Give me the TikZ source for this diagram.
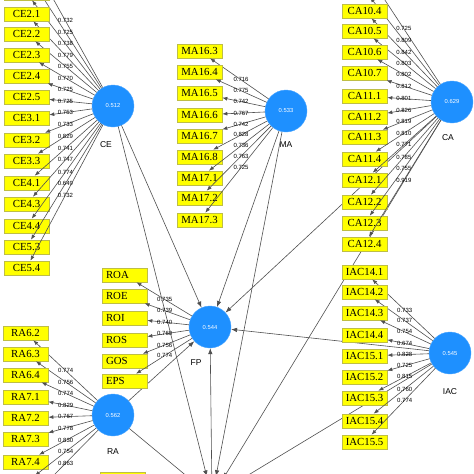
\documentclass[tikz,border=0pt]{standalone}
\usepackage{fontspec}
\setmainfont{Liberation Serif}
\setsansfont{Liberation Sans}
\usetikzlibrary{arrows.meta,calc}

\definecolor{plsblue}{RGB}{30,144,255}
\definecolor{itemyellow}{RGB}{255,255,0}
\definecolor{itemedge}{RGB}{190,190,70}
\definecolor{linkgray}{RGB}{80,80,80}

\tikzset{
  latent/.style={circle, fill=plsblue, draw=plsblue!80!white, minimum size=42pt, inner sep=0pt,
    text=white, font=\sffamily\fontsize{5.8}{6}\selectfont},
  item/.style={rectangle, fill=itemyellow, draw=itemedge, line width=0.6pt, minimum width=45pt,
    minimum height=14pt, inner sep=0pt, font=\fontsize{10.8}{11}\selectfont},
  itemleft/.style={item, text width=37pt, inner xsep=4pt, align=left},
  lvname/.style={font=\sffamily\fontsize{8.5}{9}\selectfont},
  loading/.style={font=\sffamily\fontsize{6}{6}\selectfont, inner sep=0pt},
  outer/.style={draw=linkgray, line width=0.6pt, -{Latex[length=5pt,width=3.8pt]}},
  inner/.style={draw=linkgray, line width=0.6pt, -{Latex[length=6pt,width=4.5pt]}}
}

\begin{document}
\begin{tikzpicture}[x=1pt, y=-1pt]
    \useasboundingbox (0,0) rectangle (474,474);
    \clip (0,0) rectangle (474,474);
    \fill[white] (0,0) rectangle (474,474);

    % latente Variablen
    \node[latent] (CE)  at (113,106) {0.512};
    \node[latent] (MA)  at (286,111) {0.533};
    \node[latent] (CA)  at (452,102) {0.629};
    \node[latent] (FP)  at (210,327) {0.544};
    \node[latent] (IAC) at (450,353) {0.545};
    \node[latent] (RA)  at (113,415) {0.562};
    \node[latent] (BT)  at (212,497) {};

    \node[lvname] (CEname)  at (106,145) {CE};
    \node[lvname] (MAname)  at (286,145) {MA};
    \node[lvname] (CAname)  at (448,138) {CA};
    \node[lvname] (FPname)  at (196,363) {FP};
    \node[lvname] (IACname) at (450,392) {IAC};
    \node[lvname] (RAname)  at (113,452) {RA};

    % Strukturmodell
    \draw[inner] (CE) -- (FP);
    \draw[inner] (MA) -- (FP);
    \draw[inner] (CA) -- (FP);
    \draw[inner] (IAC) -- (FP);
    \draw[inner] (RA) -- (FP);
    \draw[inner] (BT) -- (FP);
    \draw[inner] (CE) -- (BT);
    \draw[inner] (MA) -- (BT);
    \draw[inner] (CA) -- (BT);
    \draw[inner] (IAC) -- (BT);
    \draw[inner] (RA) -- (BT);

    % Indikatoren CE
    \foreach \name/\ypos/\lam [count=\i] in {{}/-49/0.732, {}/-28/0.725, {}/-7/0.738,
        CE2.1/14/0.779, CE2.2/34/0.755, CE2.3/55/0.770, CE2.4/76/0.725, CE2.5/97/0.725,
        CE3.1/118/0.753, CE3.2/140/0.733, CE3.3/161/0.829, CE4.1/183/0.741,
        CE4.3/204/0.747, CE4.4/226/0.774, CE5.3/247/0.649, CE5.4/268/0.732} {
        \node[item] (ce\i) at (26.5,\ypos) {\name};
        \draw[outer] (CE) -- (ce\i);
        \node[loading] (celam\i) at ($(CE)!0.55!(ce\i)$) {\lam};
    }

    % Indikatoren MA
    \foreach \name/\ypos/\lam [count=\i] in {MA16.3/51/0.716, MA16.4/72/0.775,
        MA16.5/93/0.742, MA16.6/115/0.767, MA16.7/136/0.742, MA16.8/157/0.828,
        MA17.1/178/0.736, MA17.2/198/0.763, MA17.3/220/0.725} {
        \node[item] (ma\i) at (199.5,\ypos) {\name};
        \draw[outer] (MA) -- (ma\i);
        \node[loading] (malam\i) at ($(MA)!0.52!(ma\i)$) {\lam};
    }

    % Indikatoren CA
    \foreach \name/\ypos/\lam [count=\i] in {{}/-31/0.725, {}/-10/0.809,
        CA10.4/11/0.842, CA10.5/31/0.803, CA10.6/52/0.802, CA10.7/73/0.812,
        CA11.1/96/0.801, CA11.2/117/0.826, CA11.3/137/0.819, CA11.4/159/0.810,
        CA12.1/180/0.771, CA12.2/202/0.785, CA12.3/223/0.755, CA12.4/244/0.919} {
        \node[item] (ca\i) at (364.5,\ypos) {\name};
        \draw[outer] (CA) -- (ca\i);
        \node[loading] (calam\i) at ($(CA)!0.55!(ca\i)$) {\lam};
    }

    % Indikatoren IAC
    \foreach \name/\ypos/\lam [count=\i] in {IAC14.1/272/0.733, IAC14.2/292/0.737,
        IAC14.3/313/0.754, IAC14.4/335/0.674, IAC15.1/356/0.828, IAC15.2/377/0.725,
        IAC15.3/398/0.815, IAC15.4/421/0.760, IAC15.5/442/0.774} {
        \node[item] (iac\i) at (364.5,\ypos) {\name};
        \draw[outer] (IAC) -- (iac\i);
        \node[loading] (iaclam\i) at ($(IAC)!0.53!(iac\i)$) {\lam};
    }

    % Indikatoren FP
    \foreach \name/\ypos/\lam [count=\i] in {ROA/275/0.735, ROE/296/0.739, ROI/318/0.740,
        ROS/340/0.760, GOS/361/0.756, EPS/381/0.774} {
        \node[itemleft] (fp\i) at (124.5,\ypos) {\name};
        \draw[outer] (FP) -- (fp\i);
        \node[loading] (fplam\i) at ($(FP)!0.53!(fp\i)$) {\lam};
    }

    % Indikatoren RA
    \foreach \name/\ypos/\lam [count=\i] in {RA6.2/333/0.774, RA6.3/354/0.756,
        RA6.4/375/0.774, RA7.1/397/0.829, RA7.2/418/0.767, RA7.3/439/0.778,
        RA7.4/462/0.830, {}/483/0.754, {}/504/0.863} {
        \node[item] (ra\i) at (25.5,\ypos) {\name};
        \draw[outer] (RA) -- (ra\i);
        \node[loading] (ralam\i) at ($(RA)!0.54!(ra\i)$) {\lam};
    }

    % Indikator unten (abgeschnitten)
    \node[item] (bt1) at (122.5,479) {};
\end{tikzpicture}
\end{document}
